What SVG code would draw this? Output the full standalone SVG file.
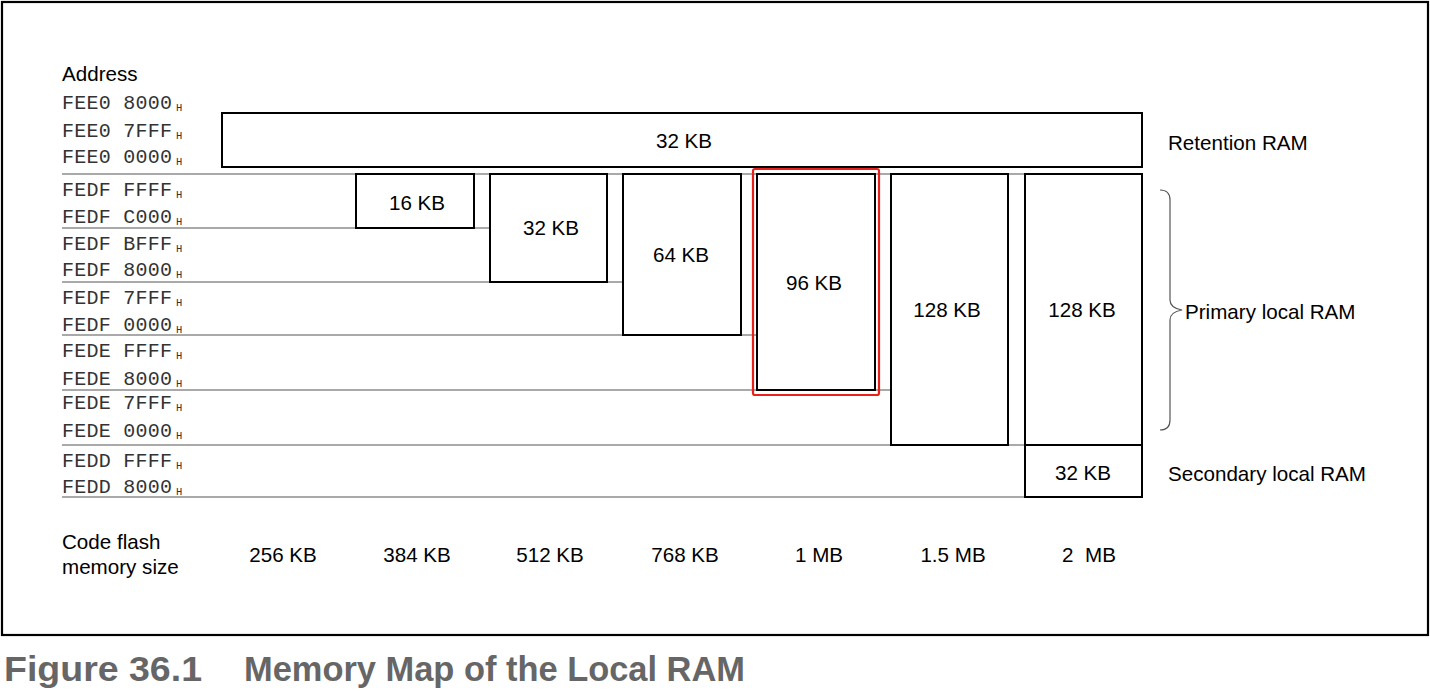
<svg xmlns="http://www.w3.org/2000/svg" width="1430" height="693" viewBox="0 0 1430 693">
<style>
.sans{font-family:"Liberation Sans",Arial,sans-serif;font-size:20.6px;fill:#000}
.mid{text-anchor:middle}
.mono{font-family:"Liberation Mono","Courier New",monospace;font-size:20px;letter-spacing:0.25px;fill:#333}
.sub{font-family:"Liberation Mono","Courier New",monospace;font-size:10.5px;fill:#333}
.box{fill:#fff;stroke:#000;stroke-width:2}
.sep{stroke:#555;stroke-width:1.2;fill:none}
.cap{font-family:"Liberation Sans",Arial,sans-serif;font-weight:bold;font-size:34.5px;fill:#666}
</style>
<rect x="0" y="0" width="1430" height="693" fill="#fff"/>
<rect x="2" y="2" width="1426" height="633" fill="none" stroke="#000" stroke-width="2.2"/>

<g id="connectors">
<line class="sep" x1="62" y1="174" x2="1142" y2="174"/>
<line class="sep" x1="62" y1="228" x2="490" y2="228"/>
<line class="sep" x1="62" y1="282" x2="623" y2="282"/>
<line class="sep" x1="62" y1="335" x2="757" y2="335"/>
<line class="sep" x1="62" y1="390" x2="891" y2="390"/>
<line class="sep" x1="62" y1="445" x2="1025" y2="445"/>
<line class="sep" x1="62" y1="497" x2="1025" y2="497"/>
<path class="sep" d="M1160,190 Q1170,190 1170,200 L1170,300 Q1170,308 1182,310 Q1170,312 1170,320 L1170,420 Q1170,430 1160,430"/>
</g>

<g id="addresses">
<text class="sans" x="62" y="81">Address</text>
<text class="mono" x="62" y="109">FEE0 8000</text><text class="sub" x="176" y="111">H</text>
<text class="mono" x="62" y="137">FEE0 7FFF</text><text class="sub" x="176" y="139">H</text>
<text class="mono" x="62" y="163">FEE0 0000</text><text class="sub" x="176" y="165">H</text>
<text class="mono" x="62" y="196">FEDF FFFF</text><text class="sub" x="176" y="198">H</text>
<text class="mono" x="62" y="223">FEDF C000</text><text class="sub" x="176" y="225">H</text>
<text class="mono" x="62" y="250">FEDF BFFF</text><text class="sub" x="176" y="252">H</text>
<text class="mono" x="62" y="276">FEDF 8000</text><text class="sub" x="176" y="278">H</text>
<text class="mono" x="62" y="304">FEDF 7FFF</text><text class="sub" x="176" y="306">H</text>
<text class="mono" x="62" y="331">FEDF 0000</text><text class="sub" x="176" y="333">H</text>
<text class="mono" x="62" y="357">FEDE FFFF</text><text class="sub" x="176" y="359">H</text>
<text class="mono" x="62" y="385">FEDE 8000</text><text class="sub" x="176" y="387">H</text>
<text class="mono" x="62" y="409">FEDE 7FFF</text><text class="sub" x="176" y="411">H</text>
<text class="mono" x="62" y="437">FEDE 0000</text><text class="sub" x="176" y="439">H</text>
<text class="mono" x="62" y="467">FEDD FFFF</text><text class="sub" x="176" y="469">H</text>
<text class="mono" x="62" y="493">FEDD 8000</text><text class="sub" x="176" y="495">H</text>
</g>

<g id="retention">
<rect class="box" x="222" y="113" width="920" height="54"/>
<text class="sans mid" x="684" y="148">32 KB</text>
</g>
<g id="b16">
<rect class="box" x="356" y="174" width="118" height="54"/>
<text class="sans mid" x="417" y="210">16 KB</text>
</g>
<g id="b32">
<rect class="box" x="490" y="174" width="117" height="108"/>
<text class="sans mid" x="551" y="235">32 KB</text>
</g>
<g id="b64">
<rect class="box" x="623" y="174" width="118" height="161"/>
<text class="sans mid" x="681" y="262">64 KB</text>
</g>
<g id="b96">
<rect class="box" x="757" y="174" width="118" height="216"/>
<rect x="753" y="169" width="126" height="226" rx="2" fill="none" stroke="#e8221b" stroke-width="2.2"/>
<text class="sans mid" x="814" y="290">96 KB</text>
</g>
<g id="b128a">
<rect class="box" x="891" y="174" width="117" height="271"/>
<text class="sans mid" x="947" y="317">128 KB</text>
</g>
<g id="b128b">
<rect class="box" x="1025" y="174" width="117" height="271"/>
<text class="sans mid" x="1082" y="317">128 KB</text>
</g>
<g id="bsec">
<rect class="box" x="1025" y="445" width="117" height="52"/>
<text class="sans mid" x="1083" y="480">32 KB</text>
</g>

<g id="labels">
<text class="sans" x="1168" y="150">Retention RAM</text>
<text class="sans" x="1185" y="319">Primary local RAM</text>
<text class="sans" x="1168" y="481">Secondary local RAM</text>
</g>

<g id="sizes">
<text class="sans" x="62" y="549">Code flash</text>
<text class="sans" x="62" y="574">memory size</text>
<text class="sans mid" x="283" y="562">256 KB</text>
<text class="sans mid" x="417" y="562">384 KB</text>
<text class="sans mid" x="550" y="562">512 KB</text>
<text class="sans mid" x="685" y="562">768 KB</text>
<text class="sans mid" x="819" y="562">1 MB</text>
<text class="sans mid" x="953" y="562">1.5 MB</text>
<text class="sans mid" x="1089" y="562" xml:space="preserve" style="white-space:pre">2  MB</text>
</g>

<g id="caption">
<text class="cap" x="4" y="681" textLength="198" lengthAdjust="spacingAndGlyphs">Figure 36.1</text>
<text class="cap" x="244" y="681" textLength="501" lengthAdjust="spacingAndGlyphs">Memory Map of the Local RAM</text>
</g>
</svg>
